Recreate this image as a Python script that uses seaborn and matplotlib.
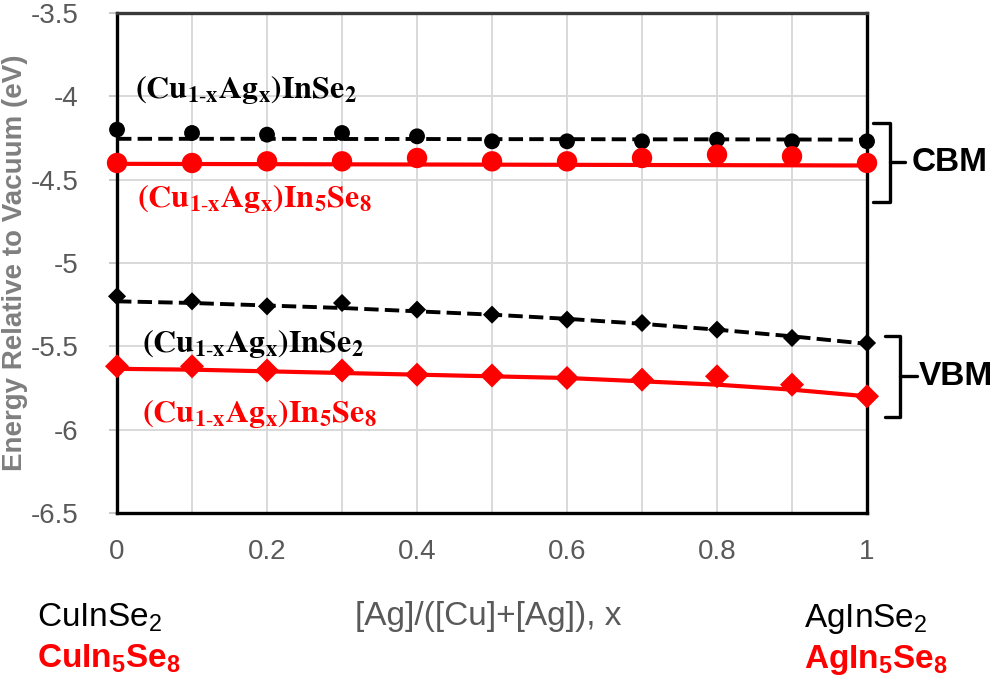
import numpy as np
import pandas as pd
import seaborn as sns
import matplotlib.pyplot as plt
from matplotlib import transforms

# ---- data ----
x_ag = [0.0, 0.1, 0.2, 0.3, 0.4, 0.5, 0.6, 0.7, 0.8, 0.9, 1.0]

cbm_inse2 = [-4.20, -4.22, -4.23, -4.22, -4.24, -4.27, -4.27, -4.27, -4.26, -4.27, -4.27]
cbm_in5se8 = [-4.40, -4.40, -4.39, -4.39, -4.37, -4.39, -4.39, -4.37, -4.35, -4.36, -4.40]
vbm_inse2 = [-5.20, -5.23, -5.26, -5.24, -5.28, -5.31, -5.34, -5.36, -5.40, -5.45, -5.48]
vbm_in5se8 = [-5.62, -5.62, -5.645, -5.645, -5.67, -5.675, -5.69, -5.70, -5.68, -5.73, -5.80]

# trend lines as drawn in the reference
trend_cbm_inse2 = [-4.255, -4.255, -4.255, -4.256, -4.256, -4.257, -4.257, -4.258, -4.258, -4.259, -4.26]
trend_cbm_in5se8 = [-4.405, -4.406, -4.407, -4.408, -4.409, -4.41, -4.411, -4.412, -4.413, -4.414, -4.415]
trend_vbm_inse2 = [-5.23, -5.24, -5.255, -5.27, -5.29, -5.31, -5.335, -5.365, -5.40, -5.44, -5.485]
trend_vbm_in5se8 = [-5.635, -5.64, -5.65, -5.66, -5.67, -5.68, -5.69, -5.71, -5.73, -5.76, -5.80]

xtick_vals = [0, 0.2, 0.4, 0.6, 0.8, 1.0]
xtick_labels = ['0', '0.2', '0.4', '0.6', '0.8', '1']
ytick_vals = [-6.5, -6.0, -5.5, -5.0, -4.5, -4.0, -3.5]
ytick_labels = ['-6.5', '-6', '-5.5', '-5', '-4.5', '-4', '-3.5']

lab_inse2 = r'$\mathbf{(Cu_{1\text{-}x}Ag_{x})InSe_{2}}$'
lab_in5se8 = r'$\mathbf{(Cu_{1\text{-}x}Ag_{x})In_{5}Se_{8}}$'

df = pd.DataFrame({'x': x_ag,
                   'cbm_inse2': cbm_inse2, 'cbm_in5se8': cbm_in5se8,
                   'vbm_inse2': vbm_inse2, 'vbm_in5se8': vbm_in5se8,
                   't_cbm_inse2': trend_cbm_inse2, 't_cbm_in5se8': trend_cbm_in5se8,
                   't_vbm_inse2': trend_vbm_inse2, 't_vbm_in5se8': trend_vbm_in5se8})

sns.set_theme(style='white')
plt.rcParams['font.family'] = ['Liberation Sans', 'DejaVu Sans']
plt.rcParams['axes.unicode_minus'] = False
plt.rcParams['mathtext.fontset'] = 'custom'
plt.rcParams['mathtext.rm'] = 'Liberation Sans'
plt.rcParams['mathtext.bf'] = 'Liberation Sans:bold'
plt.rcParams['mathtext.it'] = 'Liberation Sans:italic'

fig = plt.figure(figsize=(9.96, 6.8), dpi=100)
ax = fig.add_axes([0.1175, 0.2456, 0.7530, 0.7353])

RED = '#ff0000'
# trend lines
sns.lineplot(data=df, x='x', y='t_cbm_inse2', ax=ax, color='black', lw=2.8, linestyle='--', zorder=2)
sns.lineplot(data=df, x='x', y='t_cbm_in5se8', ax=ax, color=RED, lw=3.0, zorder=2)
sns.lineplot(data=df, x='x', y='t_vbm_inse2', ax=ax, color='black', lw=2.8, linestyle='--', zorder=2)
sns.lineplot(data=df, x='x', y='t_vbm_in5se8', ax=ax, color=RED, lw=3.0, zorder=2)

# markers
sns.scatterplot(data=df, x='x', y='cbm_inse2', ax=ax, color='black', marker='o', s=130,
                edgecolor='none', zorder=4, clip_on=False)
sns.scatterplot(data=df, x='x', y='cbm_in5se8', ax=ax, color=RED, marker='o', s=215,
                edgecolor='none', zorder=4, clip_on=False)
sns.scatterplot(data=df, x='x', y='vbm_inse2', ax=ax, color='black', marker='D', s=85,
                edgecolor='none', zorder=4, clip_on=False)
sns.scatterplot(data=df, x='x', y='vbm_in5se8', ax=ax, color=RED, marker='D', s=150,
                edgecolor='none', zorder=4, clip_on=False)

ax.set_xlim(0, 1)
ax.set_ylim(-6.5, -3.5)
ax.set_xticks(xtick_vals)
ax.set_xticklabels(xtick_labels)
ax.set_xticks(np.arange(0, 1.01, 0.1), minor=True)
ax.set_yticks(ytick_vals)
ax.set_yticklabels(ytick_labels)
ax.grid(True, which='both', color='#d9d9d9', lw=1.4)
ax.set_axisbelow(True)

ax.tick_params(axis='y', which='major', length=6, width=1.2, color='#bfbfbf', left=True,
               labelsize=20, labelcolor='#595959', pad=22)
ax.tick_params(axis='x', which='both', length=0, labelsize=20, labelcolor='#595959', pad=19)

for side in ['left', 'right', 'bottom', 'top']:
    ax.spines[side].set_visible(True)
    ax.spines[side].set_color('black')
    ax.spines[side].set_linewidth(2.4)
ax.spines['top'].set_color('#3a3a3a')

ax.set_ylabel('Energy Relative to Vacuum (eV)', fontsize=20, fontweight='bold', color='#7f7f7f')
ax.yaxis.set_label_coords(-0.1187, 0.5)
ax.set_xlabel('[Ag]/([Cu]+[Ag]), x', fontsize=24, color='#595959')
ax.xaxis.set_label_coords(0.495, -0.176)

# series labels
ax.text(0.024, -4.01, lab_inse2, color='black', fontsize=23, math_fontfamily='stix', va='baseline')
ax.text(0.027, -4.664, lab_in5se8, color=RED, fontsize=23, math_fontfamily='stix', va='baseline')
ax.text(0.033, -5.534, lab_inse2, color='black', fontsize=23, math_fontfamily='stix', va='baseline')
ax.text(0.033, -5.954, lab_in5se8, color=RED, fontsize=23, math_fontfamily='stix', va='baseline')

# brackets (CBM / VBM)
bt = transforms.blended_transform_factory(ax.transAxes, ax.transData)
def bracket(x0, x1, x2, ytop, ybot, label, xt):
    ymid = (ytop + ybot) / 2
    ax.plot([x0, x1, x1, x0], [ytop, ytop, ybot, ybot], color='black', lw=2.4,
            transform=bt, clip_on=False, solid_joinstyle='round')
    ax.plot([x1, x2], [ymid, ymid], color='black', lw=2.4, transform=bt, clip_on=False)
    ax.text(xt, ymid, label, transform=bt, fontsize=24, fontweight='bold', color='black',
            va='center', ha='left')

bracket(1.008, 1.031, 1.051, -4.16, -4.634, 'CBM', 1.059)
bracket(1.024, 1.044, 1.067, -5.438, -5.924, 'VBM', 1.069)

# end-member labels
fig.text(0.037, 0.0779, r'CuInSe$_\mathrm{2}$', fontsize=24, color='black', va='baseline')
fig.text(0.037, 0.0176, r'CuIn$_\mathbf{5}$Se$_\mathbf{8}$', fontsize=24, color=RED,
         fontweight='bold', va='baseline')
fig.text(0.807, 0.0779, r'AgInSe$_\mathrm{2}$', fontsize=24, color='black', va='baseline')
fig.text(0.807, 0.0176, r'AgIn$_\mathbf{5}$Se$_\mathbf{8}$', fontsize=24, color=RED,
         fontweight='bold', va='baseline')

fig.savefig('out.png', dpi=100, facecolor='white')
